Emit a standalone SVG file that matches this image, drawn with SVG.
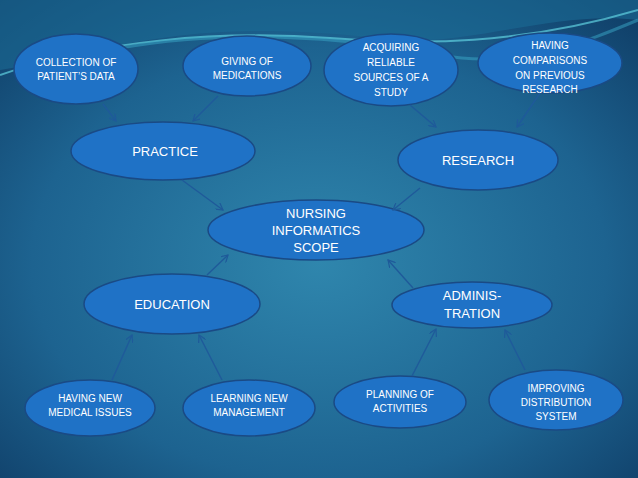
<svg xmlns="http://www.w3.org/2000/svg" width="638" height="478" viewBox="0 0 638 478">
<defs>
<radialGradient id="bg" cx="0.5" cy="0.55" r="0.75">
<stop offset="0" stop-color="#2f86ad"/>
<stop offset="0.6" stop-color="#1d6390"/>
<stop offset="1" stop-color="#0e3a63"/>
</radialGradient>
<marker id="ah" markerWidth="8" markerHeight="8" refX="7" refY="4" orient="auto" markerUnits="userSpaceOnUse">
<path d="M0,0 L7,4 L0,8" fill="none" stroke="#1f5a9a" stroke-width="1.2"/>
</marker>
<style>
.n ellipse{fill:#1f72c6;stroke:#1a4a85;stroke-width:1.5}
.n text{font-family:"Liberation Sans",sans-serif;fill:#ffffff;text-anchor:middle;font-size:10px}
.n text.b{font-size:13px}
#conn line{stroke:#1f5a9a;stroke-width:1.4;marker-end:url(#ah)}
</style>
</defs>
<rect width="638" height="478" fill="url(#bg)"/>
<path d="M0,0 H638 V20 C560,10 470,45 400,40 C300,30 200,20 60,60 L0,70 Z" fill="#1a6a95" opacity="0.6"/>
<path d="M0,75 C100,40 220,30 330,38 C420,45 520,45 638,10" fill="none" stroke="#5fd0e0" stroke-width="2" opacity="0.7"/>
<path d="M120,48 C220,30 340,35 440,55 C520,70 590,40 638,20" fill="none" stroke="#3aa8c8" stroke-width="3" opacity="0.5"/>
<g id="collection" class="n"><ellipse cx="76" cy="69" rx="62" ry="35"/><text x="76" y="66">COLLECTION OF</text><text x="76" y="80">PATIENT’S DATA</text></g>
<g id="giving" class="n"><ellipse cx="247" cy="66" rx="64" ry="30"/><text x="247" y="65">GIVING OF</text><text x="247" y="79">MEDICATIONS</text></g>
<g id="acquiring" class="n"><ellipse cx="391" cy="70" rx="67" ry="36"/><text x="391" y="51">ACQUIRING</text><text x="391" y="66">RELIABLE</text><text x="391" y="81">SOURCES OF A</text><text x="391" y="96">STUDY</text></g>
<g id="comparisons" class="n"><ellipse cx="550" cy="63" rx="72" ry="30"/><text x="550" y="49">HAVING</text><text x="550" y="64">COMPARISONS</text><text x="550" y="79">ON PREVIOUS</text><text x="550" y="93">RESEARCH</text></g>
<g id="practice" class="n"><ellipse cx="163" cy="151" rx="92" ry="29"/><text class="b" x="165" y="156">PRACTICE</text></g>
<g id="research" class="n"><ellipse cx="478" cy="160" rx="80" ry="30"/><text class="b" x="478" y="165">RESEARCH</text></g>
<g id="nursing" class="n"><ellipse cx="316" cy="230" rx="108" ry="30"/><text class="b" x="316" y="218">NURSING</text><text class="b" x="316" y="235">INFORMATICS</text><text class="b" x="316" y="252">SCOPE</text></g>
<g id="education" class="n"><ellipse cx="172" cy="304" rx="88" ry="30"/><text class="b" x="172" y="309">EDUCATION</text></g>
<g id="administration" class="n"><ellipse cx="472" cy="305" rx="80" ry="23"/><text class="b" x="472" y="300">ADMINIS-</text><text class="b" x="472" y="318">TRATION</text></g>
<g id="havingnew" class="n"><ellipse cx="90" cy="408" rx="65" ry="28"/><text x="90" y="402">HAVING NEW</text><text x="90" y="416">MEDICAL ISSUES</text></g>
<g id="learning" class="n"><ellipse cx="249" cy="408" rx="66" ry="28"/><text x="249" y="402">LEARNING  NEW</text><text x="249" y="416">MANAGEMENT</text></g>
<g id="planning" class="n"><ellipse cx="400" cy="402" rx="66" ry="26"/><text x="400" y="398">PLANNING OF</text><text x="400" y="412">ACTIVITIES</text></g>
<g id="improving" class="n"><ellipse cx="556" cy="400" rx="67" ry="30"/><text x="556" y="392">IMPROVING</text><text x="556" y="406">DISTRIBUTION</text><text x="556" y="420">SYSTEM</text></g>
<g id="conn">
<line x1="103" y1="104" x2="116" y2="121"/>
<line x1="218" y1="96" x2="193" y2="121"/>
<line x1="410" y1="105" x2="436" y2="127"/>
<line x1="540" y1="93" x2="517" y2="127"/>
<line x1="182" y1="180" x2="223" y2="210"/>
<line x1="420" y1="188" x2="393" y2="210"/>
<line x1="207" y1="275" x2="228" y2="255"/>
<line x1="413" y1="288" x2="388" y2="260"/>
<line x1="112" y1="380" x2="132" y2="335"/>
<line x1="222" y1="380" x2="199" y2="335"/>
<line x1="412" y1="376" x2="436" y2="329"/>
<line x1="525" y1="370" x2="505" y2="330"/>
</g>
</svg>
